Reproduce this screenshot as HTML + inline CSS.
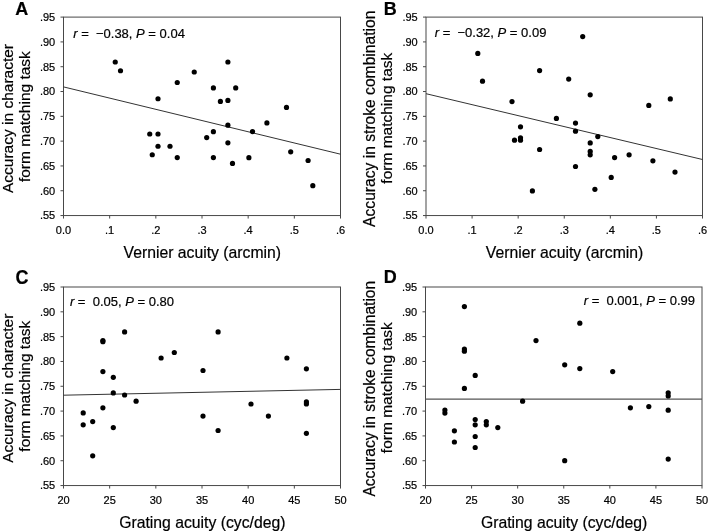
<!DOCTYPE html>
<html lang="en">
<head>
<meta charset="utf-8">
<title>Figure: acuity vs. matching accuracy</title>
<style>
html,body{margin:0;padding:0;background:#fff;}
svg{display:block;}
text{font-family:"Liberation Sans", Arial, Helvetica, sans-serif;fill:#000;stroke:#000;stroke-width:0.2px;}
.tk{font-size:11px;}
.ti{font-size:15.5px;}
.tx{font-size:15.75px;}
.pl{font-size:18px;font-weight:bold;fill:#000;}
.st{font-size:13px;white-space:pre;}
.ax{stroke:#484848;stroke-width:1;fill:none;}
.fit{stroke:#333;stroke-width:1;fill:none;}
.pt{fill:#000;}
</style>
</head>
<body>
<svg width="709" height="532" viewBox="0 0 709 532">
<rect x="0" y="0" width="709" height="532" fill="#ffffff"/>
<g id="panel-A">
<rect class="ax" x="63.5" y="17.1" width="277.00" height="198.45"/>
<path class="ax" d="M60.50 17.10H63.50M60.50 41.91H63.50M60.50 66.71H63.50M60.50 91.52H63.50M60.50 116.33H63.50M60.50 141.13H63.50M60.50 165.94H63.50M60.50 190.74H63.50M60.50 215.55H63.50M63.50 215.55V218.55M109.67 215.55V218.55M155.83 215.55V218.55M202.00 215.55V218.55M248.17 215.55V218.55M294.33 215.55V218.55M340.50 215.55V218.55"/>
<text class="tk" x="55.20" y="21.00" text-anchor="end">.95</text>
<text class="tk" x="55.20" y="45.81" text-anchor="end">.90</text>
<text class="tk" x="55.20" y="70.61" text-anchor="end">.85</text>
<text class="tk" x="55.20" y="95.42" text-anchor="end">.80</text>
<text class="tk" x="55.20" y="120.23" text-anchor="end">.75</text>
<text class="tk" x="55.20" y="145.03" text-anchor="end">.70</text>
<text class="tk" x="55.20" y="169.84" text-anchor="end">.65</text>
<text class="tk" x="55.20" y="194.64" text-anchor="end">.60</text>
<text class="tk" x="55.20" y="219.45" text-anchor="end">.55</text>
<text class="tk" x="63.50" y="233.65" text-anchor="middle">0.0</text>
<text class="tk" x="109.67" y="233.65" text-anchor="middle">.1</text>
<text class="tk" x="155.83" y="233.65" text-anchor="middle">.2</text>
<text class="tk" x="202.00" y="233.65" text-anchor="middle">.3</text>
<text class="tk" x="248.17" y="233.65" text-anchor="middle">.4</text>
<text class="tk" x="294.33" y="233.65" text-anchor="middle">.5</text>
<text class="tk" x="340.50" y="233.65" text-anchor="middle">.6</text>
<text class="tx" x="202.35" y="257.55"text-anchor="middle">Vernier acuity (arcmin)</text>
<text class="ti" transform="translate(12.5 118.5) rotate(-90)" text-anchor="middle">Accuracy in character</text>
<text class="ti" transform="translate(30.1 116.6) rotate(-90)" text-anchor="middle">form matching task</text>
<text class="pl" transform="translate(15.3 14.65) scale(1 1.045)">A</text>
<text class="st" x="73.2" y="38.3" xml:space="preserve"><tspan font-style="italic">r</tspan> =  −0.38, <tspan font-style="italic">P</tspan> = 0.04</text>
<line class="fit" x1="63.5" y1="86.9" x2="340.5" y2="154.2"/>
<circle class="pt" cx="115.25" cy="62" r="2.6"/>
<circle class="pt" cx="120.5" cy="70.75" r="2.6"/>
<circle class="pt" cx="194.25" cy="72" r="2.6"/>
<circle class="pt" cx="177.25" cy="82.5" r="2.6"/>
<circle class="pt" cx="227.9" cy="62" r="2.6"/>
<circle class="pt" cx="213.4" cy="87.9" r="2.6"/>
<circle class="pt" cx="235.7" cy="87.9" r="2.6"/>
<circle class="pt" cx="158" cy="98.75" r="2.6"/>
<circle class="pt" cx="220.4" cy="101.4" r="2.6"/>
<circle class="pt" cx="227.9" cy="100.4" r="2.6"/>
<circle class="pt" cx="227.9" cy="125.2" r="2.6"/>
<circle class="pt" cx="213.4" cy="131.7" r="2.6"/>
<circle class="pt" cx="206.7" cy="137.6" r="2.6"/>
<circle class="pt" cx="149.75" cy="134" r="2.6"/>
<circle class="pt" cx="158" cy="134" r="2.6"/>
<circle class="pt" cx="227.9" cy="142.8" r="2.6"/>
<circle class="pt" cx="158" cy="146.25" r="2.6"/>
<circle class="pt" cx="170" cy="146.25" r="2.6"/>
<circle class="pt" cx="152.25" cy="154.75" r="2.6"/>
<circle class="pt" cx="177.25" cy="157.6" r="2.6"/>
<circle class="pt" cx="213.4" cy="157.6" r="2.6"/>
<circle class="pt" cx="232.5" cy="163.4" r="2.6"/>
<circle class="pt" cx="286.5" cy="107.4" r="2.6"/>
<circle class="pt" cx="266.9" cy="122.9" r="2.6"/>
<circle class="pt" cx="252.5" cy="131.6" r="2.6"/>
<circle class="pt" cx="290.7" cy="151.8" r="2.6"/>
<circle class="pt" cx="248.9" cy="157.7" r="2.6"/>
<circle class="pt" cx="308.1" cy="160.5" r="2.6"/>
<circle class="pt" cx="312.8" cy="185.7" r="2.6"/>
</g>
<g id="panel-B">
<rect class="ax" x="426.0" y="17.1" width="276.50" height="198.45"/>
<path class="ax" d="M423.00 17.10H426.00M423.00 41.91H426.00M423.00 66.71H426.00M423.00 91.52H426.00M423.00 116.33H426.00M423.00 141.13H426.00M423.00 165.94H426.00M423.00 190.74H426.00M423.00 215.55H426.00M426.00 215.55V218.55M472.08 215.55V218.55M518.17 215.55V218.55M564.25 215.55V218.55M610.33 215.55V218.55M656.42 215.55V218.55M702.50 215.55V218.55"/>
<text class="tk" x="417.70" y="21.00" text-anchor="end">.95</text>
<text class="tk" x="417.70" y="45.81" text-anchor="end">.90</text>
<text class="tk" x="417.70" y="70.61" text-anchor="end">.85</text>
<text class="tk" x="417.70" y="95.42" text-anchor="end">.80</text>
<text class="tk" x="417.70" y="120.23" text-anchor="end">.75</text>
<text class="tk" x="417.70" y="145.03" text-anchor="end">.70</text>
<text class="tk" x="417.70" y="169.84" text-anchor="end">.65</text>
<text class="tk" x="417.70" y="194.64" text-anchor="end">.60</text>
<text class="tk" x="417.70" y="219.45" text-anchor="end">.55</text>
<text class="tk" x="426.00" y="233.65" text-anchor="middle">0.0</text>
<text class="tk" x="472.08" y="233.65" text-anchor="middle">.1</text>
<text class="tk" x="518.17" y="233.65" text-anchor="middle">.2</text>
<text class="tk" x="564.25" y="233.65" text-anchor="middle">.3</text>
<text class="tk" x="610.33" y="233.65" text-anchor="middle">.4</text>
<text class="tk" x="656.42" y="233.65" text-anchor="middle">.5</text>
<text class="tk" x="702.50" y="233.65" text-anchor="middle">.6</text>
<text class="tx" x="564.60" y="257.55"text-anchor="middle">Vernier acuity (arcmin)</text>
<text class="ti" transform="translate(375.0 118.75) rotate(-90)" text-anchor="middle" style="font-size:15.64px">Accuracy in stroke combination</text>
<text class="ti" transform="translate(392.3 118.2) rotate(-90)" text-anchor="middle">form matching task</text>
<text class="pl" transform="translate(383.8 14.6) scale(1 1.045)">B</text>
<text class="st" x="434.7" y="36.8" xml:space="preserve"><tspan font-style="italic">r</tspan> =  −0.32, <tspan font-style="italic">P</tspan> = 0.09</text>
<line class="fit" x1="426.0" y1="93.7" x2="702.5" y2="159.5"/>
<circle class="pt" cx="477.8" cy="53.4" r="2.6"/>
<circle class="pt" cx="482.5" cy="81.2" r="2.6"/>
<circle class="pt" cx="539.6" cy="70.6" r="2.6"/>
<circle class="pt" cx="568.7" cy="79.1" r="2.6"/>
<circle class="pt" cx="512" cy="101.6" r="2.6"/>
<circle class="pt" cx="556.4" cy="118.4" r="2.6"/>
<circle class="pt" cx="520.5" cy="126.8" r="2.6"/>
<circle class="pt" cx="514.5" cy="140.2" r="2.6"/>
<circle class="pt" cx="520.5" cy="137.8" r="2.6"/>
<circle class="pt" cx="520.5" cy="140.2" r="2.6"/>
<circle class="pt" cx="539.6" cy="149.5" r="2.6"/>
<circle class="pt" cx="532.4" cy="190.9" r="2.6"/>
<circle class="pt" cx="582.7" cy="36.6" r="2.6"/>
<circle class="pt" cx="590.2" cy="94.8" r="2.6"/>
<circle class="pt" cx="648.8" cy="105.4" r="2.6"/>
<circle class="pt" cx="670.3" cy="98.9" r="2.6"/>
<circle class="pt" cx="575.5" cy="123.1" r="2.6"/>
<circle class="pt" cx="575.5" cy="131.2" r="2.6"/>
<circle class="pt" cx="597.8" cy="136.6" r="2.6"/>
<circle class="pt" cx="590.2" cy="142.9" r="2.6"/>
<circle class="pt" cx="590.2" cy="151.4" r="2.6"/>
<circle class="pt" cx="590.2" cy="154.8" r="2.6"/>
<circle class="pt" cx="614.6" cy="157.6" r="2.6"/>
<circle class="pt" cx="629.1" cy="154.8" r="2.6"/>
<circle class="pt" cx="652.9" cy="160.8" r="2.6"/>
<circle class="pt" cx="575.5" cy="166.5" r="2.6"/>
<circle class="pt" cx="611.2" cy="177.4" r="2.6"/>
<circle class="pt" cx="675" cy="172.1" r="2.6"/>
<circle class="pt" cx="594.9" cy="189.3" r="2.6"/>
</g>
<g id="panel-C">
<rect class="ax" x="63.5" y="287.0" width="277.00" height="198.55"/>
<path class="ax" d="M60.50 287.00H63.50M60.50 311.82H63.50M60.50 336.64H63.50M60.50 361.46H63.50M60.50 386.27H63.50M60.50 411.09H63.50M60.50 435.91H63.50M60.50 460.73H63.50M60.50 485.55H63.50M63.50 485.55V488.55M109.67 485.55V488.55M155.83 485.55V488.55M202.00 485.55V488.55M248.17 485.55V488.55M294.33 485.55V488.55M340.50 485.55V488.55"/>
<text class="tk" x="55.20" y="290.90" text-anchor="end">.95</text>
<text class="tk" x="55.20" y="315.72" text-anchor="end">.90</text>
<text class="tk" x="55.20" y="340.54" text-anchor="end">.85</text>
<text class="tk" x="55.20" y="365.36" text-anchor="end">.80</text>
<text class="tk" x="55.20" y="390.17" text-anchor="end">.75</text>
<text class="tk" x="55.20" y="414.99" text-anchor="end">.70</text>
<text class="tk" x="55.20" y="439.81" text-anchor="end">.65</text>
<text class="tk" x="55.20" y="464.63" text-anchor="end">.60</text>
<text class="tk" x="55.20" y="489.45" text-anchor="end">.55</text>
<text class="tk" x="63.50" y="503.65" text-anchor="middle">20</text>
<text class="tk" x="109.67" y="503.65" text-anchor="middle">25</text>
<text class="tk" x="155.83" y="503.65" text-anchor="middle">30</text>
<text class="tk" x="202.00" y="503.65" text-anchor="middle">35</text>
<text class="tk" x="248.17" y="503.65" text-anchor="middle">40</text>
<text class="tk" x="294.33" y="503.65" text-anchor="middle">45</text>
<text class="tk" x="340.50" y="503.65" text-anchor="middle">50</text>
<text class="tx" x="202.35" y="527.55"text-anchor="middle">Grating acuity (cyc/deg)</text>
<text class="ti" transform="translate(12.5 388.2) rotate(-90)" text-anchor="middle">Accuracy in character</text>
<text class="ti" transform="translate(30.1 386.2) rotate(-90)" text-anchor="middle">form matching task</text>
<text class="pl" transform="translate(15.4 283.55) scale(1 1.1)">C</text>
<text class="st" x="69.9" y="306.2" xml:space="preserve"><tspan font-style="italic">r</tspan> =  0.05, <tspan font-style="italic">P</tspan> = 0.80</text>
<line class="fit" x1="63.5" y1="395.2" x2="340.5" y2="389.4"/>
<circle class="pt" cx="124.6" cy="331.9" r="2.6"/>
<circle class="pt" cx="102.9" cy="340.5" r="2.6"/>
<circle class="pt" cx="102.9" cy="341.7" r="2.6"/>
<circle class="pt" cx="174.3" cy="352.5" r="2.6"/>
<circle class="pt" cx="161.1" cy="358" r="2.6"/>
<circle class="pt" cx="102.9" cy="371.6" r="2.6"/>
<circle class="pt" cx="203" cy="370.5" r="2.6"/>
<circle class="pt" cx="113.3" cy="377.3" r="2.6"/>
<circle class="pt" cx="113.3" cy="392.9" r="2.6"/>
<circle class="pt" cx="124.6" cy="395" r="2.6"/>
<circle class="pt" cx="136.1" cy="401.2" r="2.6"/>
<circle class="pt" cx="102.9" cy="407.8" r="2.6"/>
<circle class="pt" cx="83.2" cy="412.9" r="2.6"/>
<circle class="pt" cx="203" cy="416.1" r="2.6"/>
<circle class="pt" cx="83.2" cy="424.8" r="2.6"/>
<circle class="pt" cx="92.7" cy="421.6" r="2.6"/>
<circle class="pt" cx="113.3" cy="427.6" r="2.6"/>
<circle class="pt" cx="92.7" cy="455.8" r="2.6"/>
<circle class="pt" cx="218.1" cy="331.9" r="2.6"/>
<circle class="pt" cx="286.9" cy="358" r="2.6"/>
<circle class="pt" cx="306.4" cy="368.8" r="2.6"/>
<circle class="pt" cx="251" cy="404" r="2.6"/>
<circle class="pt" cx="306.4" cy="401.9" r="2.6"/>
<circle class="pt" cx="306.4" cy="404" r="2.6"/>
<circle class="pt" cx="268.4" cy="416.1" r="2.6"/>
<circle class="pt" cx="218.1" cy="430.5" r="2.6"/>
<circle class="pt" cx="306.4" cy="433.3" r="2.6"/>
</g>
<g id="panel-D">
<rect class="ax" x="425.5" y="287.0" width="276.50" height="198.55"/>
<path class="ax" d="M422.50 287.00H425.50M422.50 311.82H425.50M422.50 336.64H425.50M422.50 361.46H425.50M422.50 386.27H425.50M422.50 411.09H425.50M422.50 435.91H425.50M422.50 460.73H425.50M422.50 485.55H425.50M425.50 485.55V488.55M471.58 485.55V488.55M517.67 485.55V488.55M563.75 485.55V488.55M609.83 485.55V488.55M655.92 485.55V488.55M702.00 485.55V488.55"/>
<text class="tk" x="417.20" y="290.90" text-anchor="end">.95</text>
<text class="tk" x="417.20" y="315.72" text-anchor="end">.90</text>
<text class="tk" x="417.20" y="340.54" text-anchor="end">.85</text>
<text class="tk" x="417.20" y="365.36" text-anchor="end">.80</text>
<text class="tk" x="417.20" y="390.17" text-anchor="end">.75</text>
<text class="tk" x="417.20" y="414.99" text-anchor="end">.70</text>
<text class="tk" x="417.20" y="439.81" text-anchor="end">.65</text>
<text class="tk" x="417.20" y="464.63" text-anchor="end">.60</text>
<text class="tk" x="417.20" y="489.45" text-anchor="end">.55</text>
<text class="tk" x="425.50" y="503.65" text-anchor="middle">20</text>
<text class="tk" x="471.58" y="503.65" text-anchor="middle">25</text>
<text class="tk" x="517.67" y="503.65" text-anchor="middle">30</text>
<text class="tk" x="563.75" y="503.65" text-anchor="middle">35</text>
<text class="tk" x="609.83" y="503.65" text-anchor="middle">40</text>
<text class="tk" x="655.92" y="503.65" text-anchor="middle">45</text>
<text class="tk" x="702.00" y="503.65" text-anchor="middle">50</text>
<text class="tx" x="564.10" y="527.55"text-anchor="middle">Grating acuity (cyc/deg)</text>
<text class="ti" transform="translate(374.6 388.7) rotate(-90)" text-anchor="middle" style="font-size:15.6px">Accuracy in stroke combination</text>
<text class="ti" transform="translate(392.3 387.7) rotate(-90)" text-anchor="middle">form matching task</text>
<text class="pl" transform="translate(383.7 282.7) scale(1 1.045)">D</text>
<text class="st" x="583.75" y="305.1" xml:space="preserve"><tspan font-style="italic">r</tspan> =  0.001, <tspan font-style="italic">P</tspan> = 0.99</text>
<line class="fit" x1="425.5" y1="399.1" x2="702.0" y2="399.1" style="stroke:#555;stroke-width:1.25"/>
<circle class="pt" cx="464.4" cy="306.6" r="2.6"/>
<circle class="pt" cx="464.4" cy="349.1" r="2.6"/>
<circle class="pt" cx="464.4" cy="351.2" r="2.6"/>
<circle class="pt" cx="536" cy="340.6" r="2.6"/>
<circle class="pt" cx="564.7" cy="364.8" r="2.6"/>
<circle class="pt" cx="475.2" cy="375.4" r="2.6"/>
<circle class="pt" cx="464.4" cy="388.4" r="2.6"/>
<circle class="pt" cx="522.6" cy="401.2" r="2.6"/>
<circle class="pt" cx="444.9" cy="410.1" r="2.6"/>
<circle class="pt" cx="444.9" cy="413.1" r="2.6"/>
<circle class="pt" cx="475.2" cy="419.5" r="2.6"/>
<circle class="pt" cx="475.2" cy="424.8" r="2.6"/>
<circle class="pt" cx="486.3" cy="421.6" r="2.6"/>
<circle class="pt" cx="486.3" cy="424.8" r="2.6"/>
<circle class="pt" cx="497.8" cy="427.6" r="2.6"/>
<circle class="pt" cx="454.4" cy="430.8" r="2.6"/>
<circle class="pt" cx="475.2" cy="436.5" r="2.6"/>
<circle class="pt" cx="454.4" cy="442" r="2.6"/>
<circle class="pt" cx="475.2" cy="447.5" r="2.6"/>
<circle class="pt" cx="564.7" cy="460.7" r="2.6"/>
<circle class="pt" cx="579.8" cy="323.2" r="2.6"/>
<circle class="pt" cx="579.8" cy="368.6" r="2.6"/>
<circle class="pt" cx="612.7" cy="371.6" r="2.6"/>
<circle class="pt" cx="668.2" cy="392.8" r="2.6"/>
<circle class="pt" cx="668.2" cy="395.9" r="2.6"/>
<circle class="pt" cx="630.4" cy="407.8" r="2.6"/>
<circle class="pt" cx="648.8" cy="406.6" r="2.6"/>
<circle class="pt" cx="668.2" cy="410.2" r="2.6"/>
<circle class="pt" cx="668.2" cy="459.1" r="2.6"/>
</g>
</svg>
</body>
</html>
